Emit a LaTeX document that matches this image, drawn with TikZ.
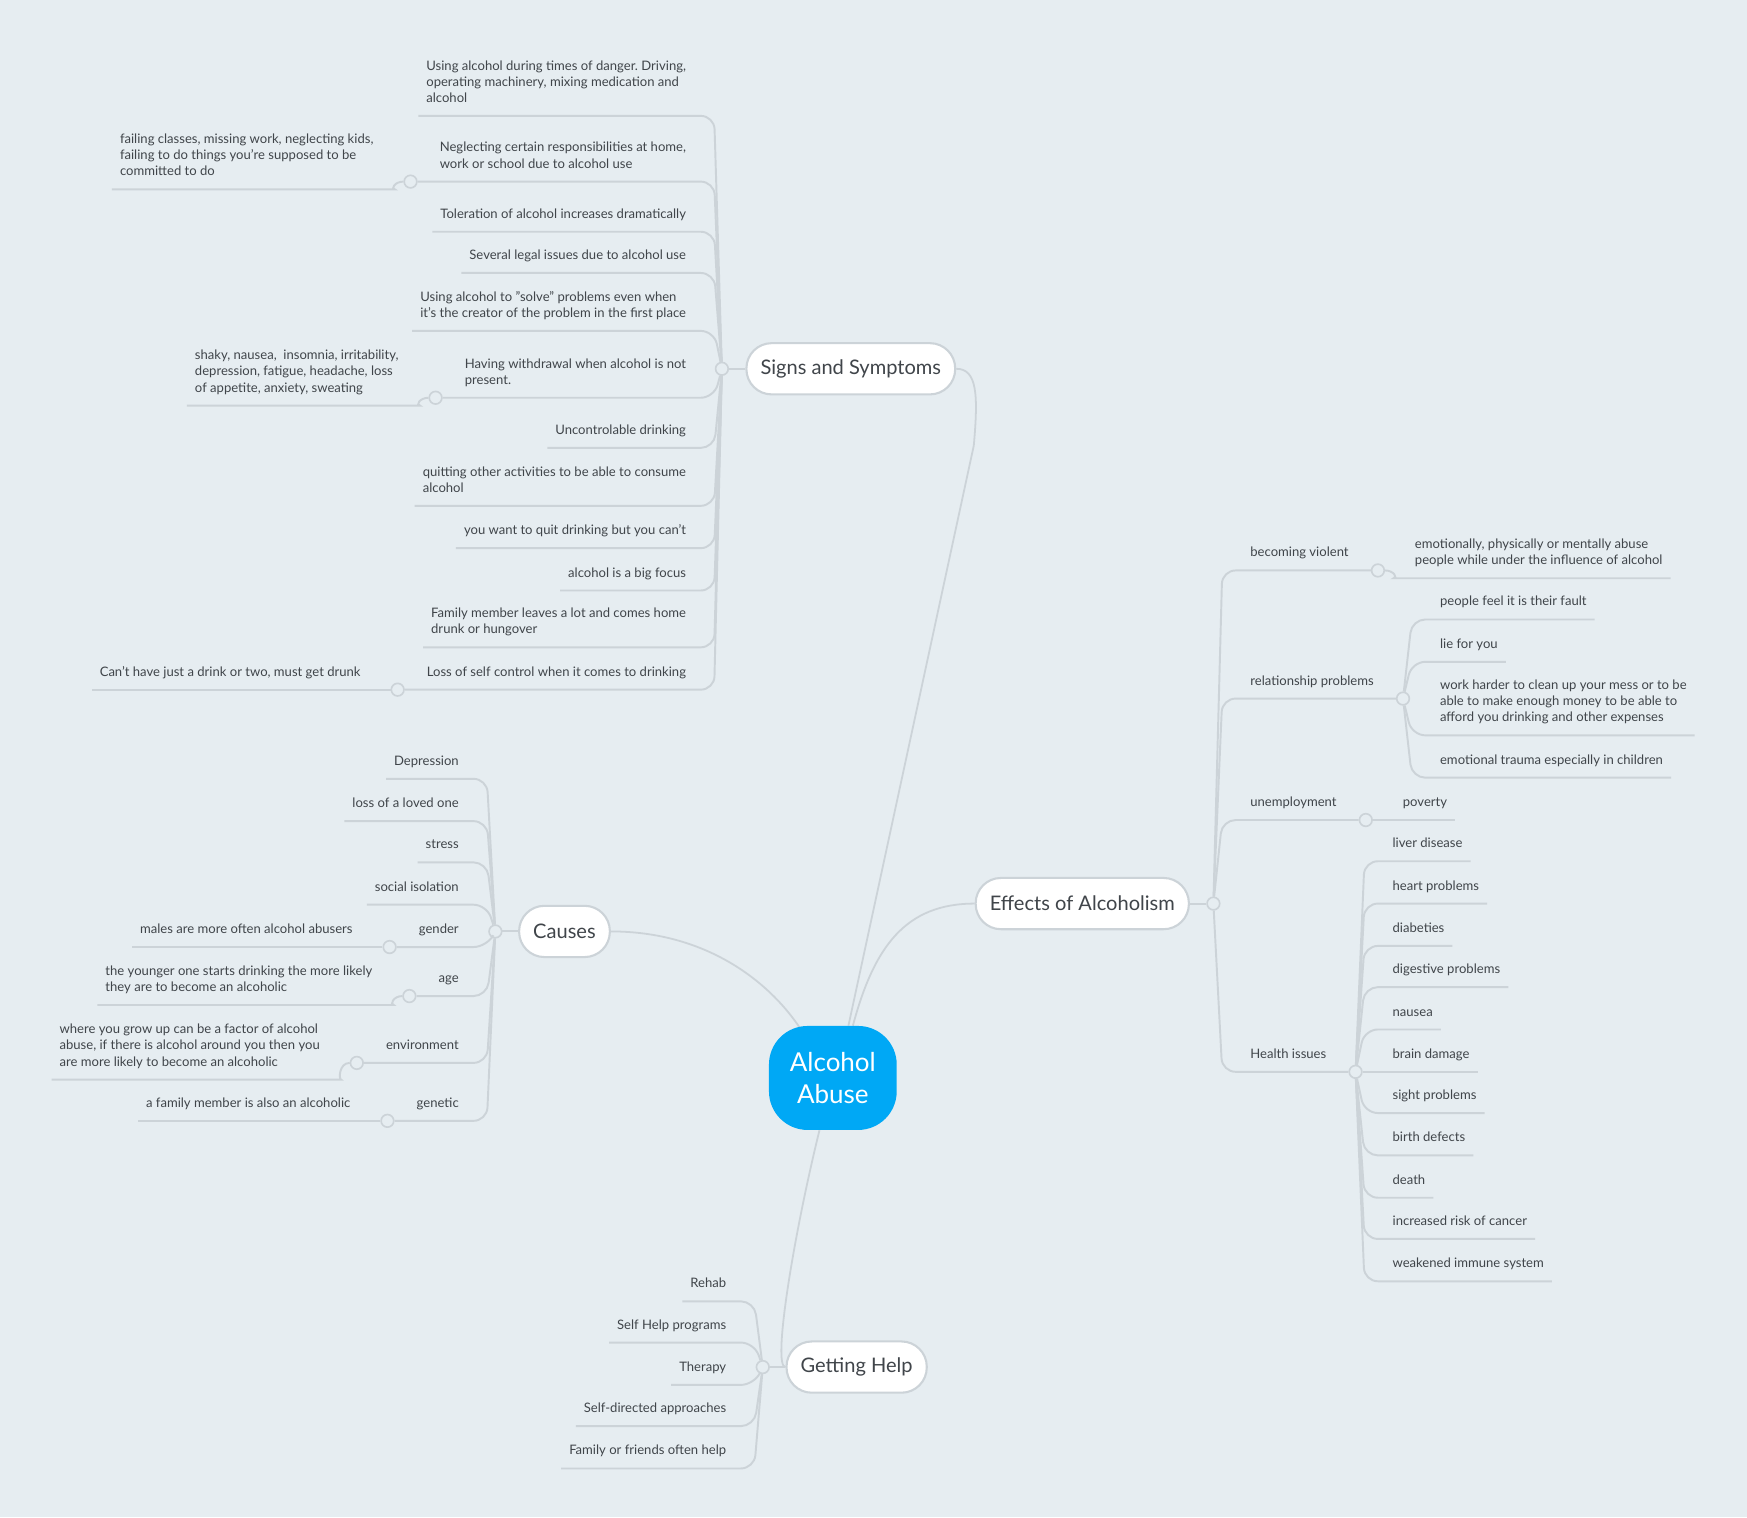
\documentclass[tikz,border=0pt]{standalone}
\usepackage{fontspec}
\setmainfont{Lato}
\frenchspacing
\usetikzlibrary{positioning,calc,backgrounds}
\definecolor{bgcol}{HTML}{E6EDF1}
\definecolor{linecol}{HTML}{CCD3D8}
\definecolor{txtcol}{HTML}{40454A}
\definecolor{rootcol}{HTML}{00A8F5}

\begin{document}
\begin{tikzpicture}[
    x=0.75pt, y=-0.75pt,
    root/.style={fill=rootcol, text=white, rounded corners=26pt, minimum width=86pt, minimum height=70pt, align=center, font=\fontsize{17.5}{21.5}\selectfont},
    topic/.style={draw=linecol, line width=1.4pt, fill=white, rounded corners=17pt, minimum height=34.5pt, inner xsep=9.5pt, text=txtcol, font=\fontsize{13.5}{15}\selectfont},
    sub/.style={text=txtcol, font=\fontsize{8.8}{10.9}\selectfont, inner xsep=5.25pt, inner ysep=5.6pt, align=left, execute at end node=\strut},
    lsub/.style={sub, anchor=south east},
    rsub/.style={sub, anchor=south west},
    knob/.style={circle, draw=linecol, fill=bgcol, line width=1.1pt, minimum size=8.5pt, inner sep=0pt},
    branch/.style={draw=linecol, line width=1.3pt, rounded corners=9pt},
    conn/.style={draw=linecol, line width=1.2pt}
]
\useasboundingbox (0,0) rectangle (1568,1362);

% central topic and main branches
\node[root] (al) at (747.5,967.5) {Alcohol\\Abuse};
\node[topic, anchor=west] (ss) at (669,331) {Signs and Symptoms};
\node[knob, left=11pt of ss] (kss) {};
\node[topic, anchor=east] (ef) at (1068,811) {Effects of Alcoholism};
\node[knob, right=11pt of ef] (kef) {};
\node[topic, anchor=west] (ca) at (465,836) {Causes};
\node[knob, left=10.5pt of ca] (kca) {};
\node[topic, anchor=west] (gh) at (705,1227) {Getting Help};
\node[knob, left=10.5pt of gh] (kgh) {};

% signs and symptoms
\node[lsub] (s1) at (623,104) {Using alcohol during times of danger. Driving,\\operating machinery, mixing medication and\\alcohol};
\node[lsub] (s2) at (623,163) {Neglecting certain responsibilities at home,\\work or school due to alcohol use};
\node[lsub] (s3) at (623,208) {Toleration of alcohol increases dramatically};
\node[lsub] (s4) at (623,245) {Several legal issues due to alcohol use};
\node[lsub] (s5) at (623,297) {Using alcohol to "solve" problems even when\\it's the creator of the problem in the first place};
\node[lsub] (s6) at (623,357) {Having withdrawal when alcohol is not\\present.};
\node[lsub] (s7) at (623,402) {Uncontrolable drinking};
\node[lsub] (s8) at (623,454) {quitting other activities to be able to consume\\alcohol};
\node[lsub] (s9) at (623,492) {you want to quit drinking but you can't};
\node[lsub] (s10) at (623,530) {alcohol is a big focus};
\node[lsub] (s11) at (623,581) {Family member leaves a lot and comes home\\drunk or hungover};
\node[lsub] (s12) at (623,619) {Loss of self control when it comes to drinking};
\node[knob] (k2) at ($(s2.south west)+(-19,0)$) {};
\node[knob] (k6) at ($(s6.south west)+(-19,0)$) {};
\node[knob] (k12) at ($(s12.south west)+(-19,0)$) {};
\node[lsub] (s2a) at ($(k2)+(-26,7)$) {failing classes, missing work, neglecting kids,\\failing to do things you're supposed to be\\committed to do};
\node[lsub] (s6a) at ($(k6)+(-26,7)$) {shaky, nausea,\ \ insomnia, irritability,\\depression, fatigue, headache, loss\\of appetite, anxiety, sweating};
\node[lsub] (s12a) at ($(k12)+(-26,0)$) {Can't have just a drink or two, must get drunk};

% causes
\node[lsub] (c1) at (419,699) {Depression};
\node[lsub] (c2) at (419,737) {loss of a loved one};
\node[lsub] (c3) at (419,774) {stress};
\node[lsub] (c4) at (419,812) {social isolation};
\node[lsub] (c5) at (419,850) {gender};
\node[lsub] (c6) at (419,894) {age};
\node[lsub] (c7) at (419,954) {environment};
\node[lsub] (c8) at (419,1006) {genetic};
\node[knob] (kc5) at ($(c5.south west)+(-19,0)$) {};
\node[knob] (kc6) at ($(c6.south west)+(-19,0)$) {};
\node[knob] (kc7) at ($(c7.south west)+(-19,0)$) {};
\node[knob] (kc8) at ($(c8.south west)+(-19,0)$) {};
\node[lsub] (c5a) at ($(kc5)+(-26,0)$) {males are more often alcohol abusers};
\node[lsub] (c6a) at ($(kc6)+(-26,8)$) {the younger one starts drinking the more likely\\they are to become an alcoholic};
\node[lsub] (c7a) at ($(kc7)+(-26,15)$) {where you grow up can be a factor of alcohol\\abuse, if there is alcohol around you then you\\are more likely to become an alcoholic};
\node[lsub] (c8a) at ($(kc8)+(-26,0)$) {a family member is also an alcoholic};

% getting help
\node[lsub] (g1) at (659,1168) {Rehab};
\node[lsub] (g2) at (659,1205) {Self Help programs};
\node[lsub] (g3) at (659,1243) {Therapy};
\node[lsub] (g4) at (659,1280) {Self-directed approaches};
\node[lsub] (g5) at (659,1318) {Family or friends often help};

% effects of alcoholism
\node[rsub] (e1) at (1115,512) {becoming violent};
\node[rsub] (e2) at (1115,627) {relationship problems};
\node[rsub] (e3) at (1115,736) {unemployment};
\node[rsub] (e4) at (1115,962) {Health issues};
\node[knob] (ke1) at ($(e1.south east)+(19,0)$) {};
\node[knob] (ke2) at ($(e2.south east)+(19,0)$) {};
\node[knob] (ke3) at ($(e3.south east)+(19,0)$) {};
\node[knob] (ke4) at ($(e4.south east)+(19,0)$) {};
\node[rsub] (v1) at ($(ke1)+(26,7)$) {emotionally, physically or mentally abuse\\people while under the influence of alcohol};
\node[rsub] (r1) at ($(ke2)+(26,-71)$) {people feel it is their fault};
\node[rsub] (r2) at ($(ke2)+(26,-33)$) {lie for you};
\node[rsub] (r3) at ($(ke2)+(26,33)$) {work harder to clean up your mess or to be\\able to make enough money to be able to\\afford you drinking and other expenses};
\node[rsub] (r4) at ($(ke2)+(26,71)$) {emotional trauma especially in children};
\node[rsub] (u1) at ($(ke3)+(26,0)$) {poverty};
\node[rsub] (h1) at ($(ke4)+(26,-189)$) {liver disease};
\node[rsub] (h2) at ($(ke4)+(26,-151)$) {heart problems};
\node[rsub] (h3) at ($(ke4)+(26,-113)$) {diabeties};
\node[rsub] (h4) at ($(ke4)+(26,-76)$) {digestive problems};
\node[rsub] (h5) at ($(ke4)+(26,-38)$) {nausea};
\node[rsub] (h6) at ($(ke4)+(26,0)$) {brain damage};
\node[rsub] (h7) at ($(ke4)+(26,37)$) {sight problems};
\node[rsub] (h8) at ($(ke4)+(26,75)$) {birth defects};
\node[rsub] (h9) at ($(ke4)+(26,113)$) {death};
\node[rsub] (h10) at ($(ke4)+(26,150)$) {increased risk of cancer};
\node[rsub] (h11) at ($(ke4)+(26,188)$) {weakened immune system};

% connectors from the centre
\begin{scope}[on background layer]
\fill[bgcol] (0,0) rectangle (1568,1362);
\draw[conn] (ss.east) .. controls +(19,0) and +(4,-45) .. (874,400) -- ($(al.north)+(14,0)$);
\draw[conn] (ef.west) .. controls +(-62,0) and +(19,-71) .. ($(al.north)+(18,0)$);
\draw[conn] (ca.east) .. controls +(85,0) and +(-28,-42) .. ($(al.north west)+(28,2)$);
\draw[conn] ($(al.south)+(-12,0)$) .. controls (712,1110) and (693,1227) .. (gh.west);
\end{scope}

\draw[branch] (ss) -- (kss);
\draw[branch] (ef) -- (kef);
\draw[branch] (ca) -- (kca);
\draw[branch] (gh) -- (kgh);

% signs branches
\draw[branch] (kss) -- ($(s1.south east)+(18,0)$) -- (s1.south west);
\draw[branch] (kss) -- ($(s2.south east)+(18,0)$) -- (k2);
\draw[branch] (kss) -- ($(s3.south east)+(18,0)$) -- (s3.south west);
\draw[branch] (kss) -- ($(s4.south east)+(18,0)$) -- (s4.south west);
\draw[branch] (kss) -- ($(s5.south east)+(18,0)$) -- (s5.south west);
\draw[branch] (kss) -- ($(s6.south east)+(18,0)$) -- (k6);
\draw[branch] (kss) -- ($(s7.south east)+(18,0)$) -- (s7.south west);
\draw[branch] (kss) -- ($(s8.south east)+(18,0)$) -- (s8.south west);
\draw[branch] (kss) -- ($(s9.south east)+(18,0)$) -- (s9.south west);
\draw[branch] (kss) -- ($(s10.south east)+(18,0)$) -- (s10.south west);
\draw[branch] (kss) -- ($(s11.south east)+(18,0)$) -- (s11.south west);
\draw[branch] (kss) -- ($(s12.south east)+(18,0)$) -- (k12);
\draw[branch] (k2) to[out=180,in=0] (s2a.south east) -- (s2a.south west);
\draw[branch] (k6) to[out=180,in=0] (s6a.south east) -- (s6a.south west);
\draw[branch] (k12) -- (s12a.south east) -- (s12a.south west);

% causes branches
\draw[branch] (kca) -- ($(c1.south east)+(18,0)$) -- (c1.south west);
\draw[branch] (kca) -- ($(c2.south east)+(18,0)$) -- (c2.south west);
\draw[branch] (kca) -- ($(c3.south east)+(18,0)$) -- (c3.south west);
\draw[branch] (kca) -- ($(c4.south east)+(18,0)$) -- (c4.south west);
\draw[branch] (kca) -- ($(c5.south east)+(18,0)$) -- (kc5);
\draw[branch] (kca) -- ($(c6.south east)+(18,0)$) -- (kc6);
\draw[branch] (kca) -- ($(c7.south east)+(18,0)$) -- (kc7);
\draw[branch] (kca) -- ($(c8.south east)+(18,0)$) -- (kc8);
\draw[branch] (kc5) -- (c5a.south east) -- (c5a.south west);
\draw[branch] (kc6) to[out=180,in=0] (c6a.south east) -- (c6a.south west);
\draw[branch] (kc7) to[out=180,in=0] (c7a.south east) -- (c7a.south west);
\draw[branch] (kc8) -- (c8a.south east) -- (c8a.south west);

% getting help branches
\draw[branch] (kgh) -- ($(g1.south east)+(18,0)$) -- (g1.south west);
\draw[branch] (kgh) -- ($(g2.south east)+(18,0)$) -- (g2.south west);
\draw[branch] (kgh) -- ($(g3.south east)+(18,0)$) -- (g3.south west);
\draw[branch] (kgh) -- ($(g4.south east)+(18,0)$) -- (g4.south west);
\draw[branch] (kgh) -- ($(g5.south east)+(18,0)$) -- (g5.south west);

% effects branches
\draw[branch] (kef) -- ($(e1.south west)+(-18,0)$) -- (ke1);
\draw[branch] (kef) -- ($(e2.south west)+(-18,0)$) -- (ke2);
\draw[branch] (kef) -- ($(e3.south west)+(-18,0)$) -- (ke3);
\draw[branch] (kef) -- ($(e4.south west)+(-18,0)$) -- (ke4);
\draw[branch] (ke1) to[out=0,in=180] (v1.south west) -- (v1.south east);
\draw[branch] (ke2) -- ($(r1.south west)+(-18,0)$) -- (r1.south east);
\draw[branch] (ke2) -- ($(r2.south west)+(-18,0)$) -- (r2.south east);
\draw[branch] (ke2) -- ($(r3.south west)+(-18,0)$) -- (r3.south east);
\draw[branch] (ke2) -- ($(r4.south west)+(-18,0)$) -- (r4.south east);
\draw[branch] (ke3) -- (u1.south west) -- (u1.south east);
\draw[branch] (ke4) -- ($(h1.south west)+(-18,0)$) -- (h1.south east);
\draw[branch] (ke4) -- ($(h2.south west)+(-18,0)$) -- (h2.south east);
\draw[branch] (ke4) -- ($(h3.south west)+(-18,0)$) -- (h3.south east);
\draw[branch] (ke4) -- ($(h4.south west)+(-18,0)$) -- (h4.south east);
\draw[branch] (ke4) -- ($(h5.south west)+(-18,0)$) -- (h5.south east);
\draw[branch] (ke4) -- (h6.south west) -- (h6.south east);
\draw[branch] (ke4) -- ($(h7.south west)+(-18,0)$) -- (h7.south east);
\draw[branch] (ke4) -- ($(h8.south west)+(-18,0)$) -- (h8.south east);
\draw[branch] (ke4) -- ($(h9.south west)+(-18,0)$) -- (h9.south east);
\draw[branch] (ke4) -- ($(h10.south west)+(-18,0)$) -- (h10.south east);
\draw[branch] (ke4) -- ($(h11.south west)+(-18,0)$) -- (h11.south east);
\end{tikzpicture}
\end{document}
